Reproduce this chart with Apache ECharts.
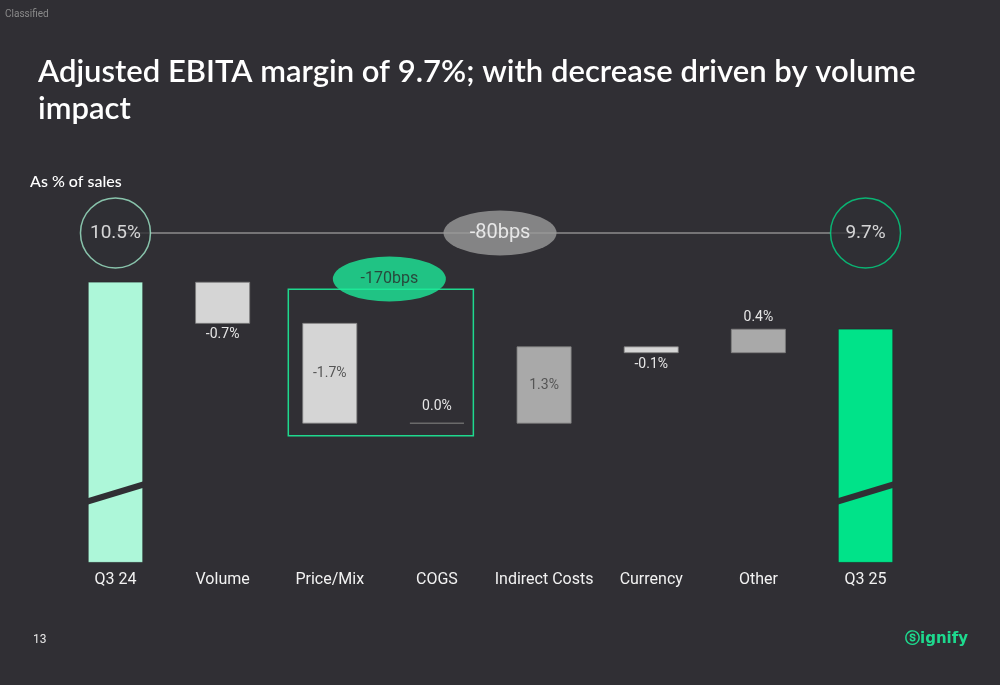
<!DOCTYPE html>
<html>
<head>
<meta charset="utf-8">
<title>Adjusted EBITA margin bridge</title>
<script src="https://cdn.jsdelivr.net/npm/echarts@6.0.0/dist/echarts.min.js"></script>
<style>
  html, body { margin: 0; padding: 0; background: #302f34; }
  #chart { width: 1000px; height: 685px; }
</style>
</head>
<body>
<div id="chart"></div>
<script>
// bridge data, % of sales
var categories = ['Q3 24', 'Volume', 'Price/Mix', 'COGS', 'Indirect Costs', 'Currency', 'Other', 'Q3 25'];
var startValue = 10.5;
var deltas = [-0.7, -1.7, 0.0, 1.3, -0.1, 0.4];
var endValue = 9.7;
// Price/Mix + COGS are boxed together
var groupItems = ['Price/Mix', 'COGS'];

var BG = '#302f34';
var FONT = 'Roboto, "Noto Sans", sans-serif';

function pct(v) { return v.toFixed(1) + '%'; }
function bps(v) { return Math.round(v * 100) + 'bps'; }

// build waterfall rows: [index, low, high, delta, kind]
var rows = [];
rows.push([0, 0, startValue, startValue, 'total']);
var level = startValue;
deltas.forEach(function (d, k) {
  var next = Math.round((level + d) * 10) / 10;
  rows.push([k + 1, Math.min(level, next), Math.max(level, next), d, 'delta']);
  level = next;
});
rows.push([categories.length - 1, 0, endValue, endValue, 'total']);

var groupChange = 0;
groupItems.forEach(function (name) { groupChange += deltas[categories.indexOf(name) - 1]; });

var LEVEL = 11.34; // annotation row above the bars

var chart = echarts.init(document.getElementById('chart'));

var option = {
  backgroundColor: BG,
  animation: false,
  title: {
    text: 'Adjusted EBITA margin of 9.7%; with decrease driven by volume\nimpact',
    left: 33,
    top: 48,
    textStyle: { color: '#ffffff', fontSize: 31, fontWeight: 600, lineHeight: 37, fontFamily: 'Lato, "Noto Sans", sans-serif' }
  },
  graphic: [
    { type: 'text', left: 5, top: 9, style: { text: 'Classified', fill: '#8a8a8a', fontSize: 10, fontFamily: FONT } },
    { type: 'text', left: 30, top: 174, style: { text: 'As % of sales', fill: '#ffffff', fontSize: 16, fontWeight: 500, fontFamily: 'Lato, sans-serif' } },
    { type: 'text', left: 33, top: 634, style: { text: '13', fill: '#e6e6e6', fontSize: 12, fontFamily: FONT } },
    { type: 'text', left: 905, top: 632, style: { text: 'ⓢignify', fill: '#1ed98e', fontSize: 15, fontWeight: 'bold', fontFamily: 'DejaVu Sans, sans-serif' } }
  ],
  grid: { left: 61.9, right: 80.9, top: 194.2, bottom: 122.7 },
  xAxis: [
    {
      type: 'category',
      data: categories,
      axisLine: { show: false },
      axisTick: { show: false },
      axisLabel: { interval: 0, color: '#f2f2f2', fontSize: 16, margin: 10, fontFamily: FONT }
    },
    { type: 'value', min: -0.5, max: 7.5, show: false }
  ],
  yAxis: { type: 'value', min: 5.73, max: 12, show: false },
  series: [
    {
      // connector line and grouping box
      type: 'line',
      xAxisIndex: 1,
      z: 1,
      symbol: 'none',
      silent: true,
      lineStyle: { color: '#8c8c8c', width: 1.5 },
      data: [[0, LEVEL], [7, LEVEL]],
      markArea: {
        silent: true,
        itemStyle: { color: 'rgba(0,0,0,0)', borderColor: '#1ed98e', borderWidth: 1.5 },
        data: [[{ coord: [1.613, 10.38] }, { coord: [3.34, 7.887] }]]
      }
    },
    {
      type: 'custom',
      xAxisIndex: 0,
      z: 2,
      data: rows,
      renderItem: function (params, api) {
        var i = api.value(0), lo = api.value(1), hi = api.value(2), d = api.value(3);
        var kind = rows[params.dataIndex][4];
        var cs = params.coordSys;
        var top = api.coord([i, hi]);
        var bot = api.coord([i, lo]);
        var x = top[0];
        var w = api.size([1, 0])[0] * 0.505;
        var yb = Math.min(bot[1], cs.y + cs.height);
        var yt = top[1];
        var children = [];
        if (kind === 'total') {
          var fill = i === 0 ? '#adf7d9' : '#00e389';
          children.push({ type: 'rect', shape: { x: x - w / 2, y: yt, width: w, height: yb - yt },
            style: { fill: fill, stroke: 'rgba(0,0,0,0.25)', lineWidth: 0.8 } });
          // axis break slash
          var l = x - w / 2 - 1, r = x + w / 2 + 1;
          children.push({ type: 'polygon', shape: { points: [[l, yb - 64], [r, yb - 81], [r, yb - 74.5], [l, yb - 57.5]] },
            style: { fill: BG } });
        } else if (hi - lo < 0.001) {
          children.push({ type: 'line', shape: { x1: x - w / 2, y1: yt, x2: x + w / 2, y2: yt },
            style: { stroke: '#6a6a6a', lineWidth: 1.5 } });
          children.push({ type: 'text', style: { text: pct(d), x: x, y: yt - 17, align: 'center', verticalAlign: 'middle',
            fill: '#e6e6e6', fontSize: 14, fontFamily: FONT } });
        } else {
          var h = yb - yt;
          children.push({ type: 'rect', shape: { x: x - w / 2, y: yt, width: w, height: h },
            style: { fill: d < 0 ? '#d5d5d5' : '#a9a9a9', stroke: '#7d7d7d', lineWidth: 0.8 } });
          var ly, col = '#e6e6e6';
          if (h > 50) { ly = (yt + yb) / 2; col = '#555555'; }
          else if (d < 0) { ly = yb + 11.5; }
          else { ly = yt - 11.5; }
          children.push({ type: 'text', style: { text: pct(d), x: x, y: ly, align: 'center', verticalAlign: 'middle',
            fill: col, fontSize: 14, fontFamily: FONT } });
        }
        return { type: 'group', children: children };
      }
    },
    {
      // start / end value circles
      type: 'scatter',
      xAxisIndex: 1,
      z: 3,
      silent: true,
      symbol: 'circle',
      symbolSize: 70,
      data: [
        { value: [0, LEVEL], name: pct(startValue), itemStyle: { borderColor: '#9fe8c9' } },
        { value: [7, LEVEL], name: pct(endValue), itemStyle: { borderColor: '#00d683' } }
      ],
      itemStyle: { color: BG, borderWidth: 1.5 },
      label: { show: true, position: 'inside', formatter: '{b}', color: '#ffffff', fontSize: 19, fontFamily: FONT }
    },
    {
      // bps change bubbles
      type: 'scatter',
      xAxisIndex: 1,
      z: 4,
      silent: true,
      symbol: 'circle',
      symbolSize: [113, 45],
      data: [
        { value: [3.589, LEVEL], name: bps(endValue - startValue), itemStyle: { color: '#9a9a9a' },
          label: { color: '#ffffff', fontSize: 20 } },
        { value: [2.556, 10.556], name: bps(groupChange), itemStyle: { color: '#1de898' },
          label: { color: '#2b2b2b', fontSize: 16 } }
      ],
      label: { show: true, position: 'inside', formatter: '{b}', fontFamily: FONT }
    }
  ]
};

chart.setOption(option);
</script>
</body>
</html>
